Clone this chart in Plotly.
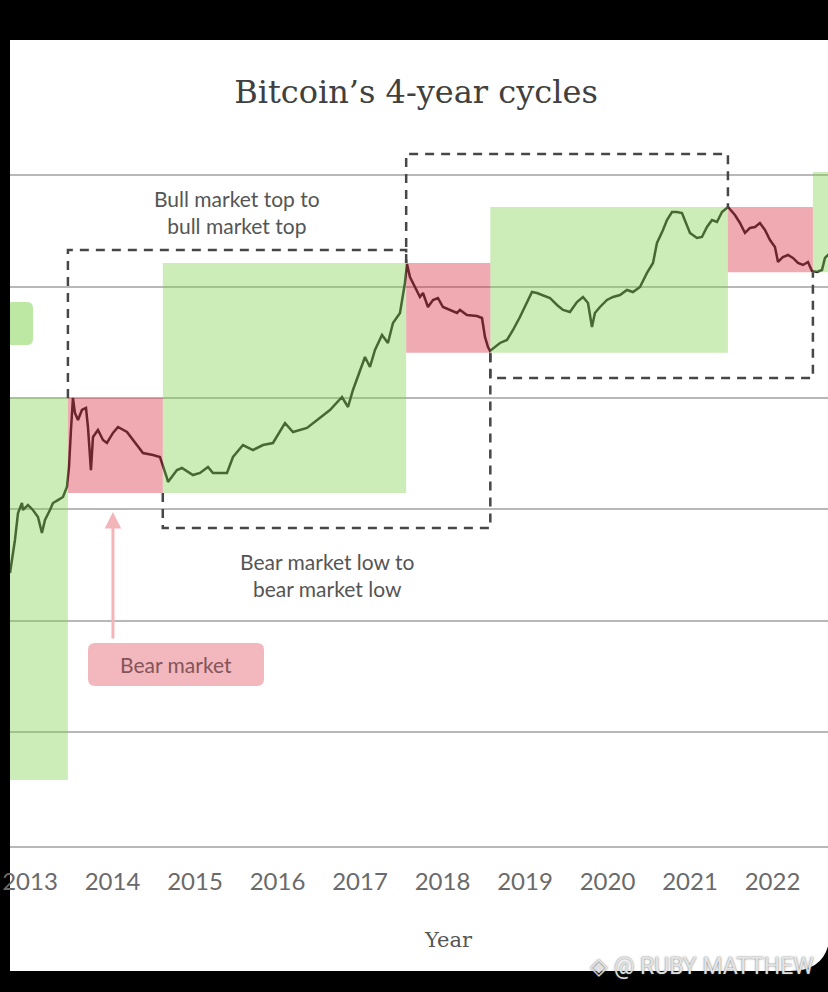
import plotly.graph_objects as go

# ---------------- data ----------------
years = list(range(2013, 2024))

price_t = [
    2013.158, 2013.218, 2013.255, 2013.303, 2013.315, 2013.376, 2013.436, 2013.497, 2013.545, 2013.582,
    2013.642, 2013.679, 2013.739, 2013.800, 2013.848, 2013.873, 2013.897, 2013.921, 2013.945, 2013.982,
    2014.030, 2014.079, 2014.103, 2014.139, 2014.164, 2014.224, 2014.285, 2014.333, 2014.406, 2014.467,
    2014.576, 2014.648, 2014.770, 2014.891, 2014.976, 2015.061, 2015.073, 2015.182, 2015.242, 2015.376,
    2015.461, 2015.558, 2015.618, 2015.788, 2015.861, 2015.982, 2016.103, 2016.224, 2016.345, 2016.491,
    2016.588, 2016.758, 2016.879, 2017.036, 2017.182, 2017.255, 2017.315, 2017.400, 2017.461, 2017.521,
    2017.582, 2017.667, 2017.739, 2017.800, 2017.885, 2017.945, 2017.970, 2018.006, 2018.067, 2018.127,
    2018.164, 2018.224, 2018.285, 2018.345, 2018.406, 2018.491, 2018.576, 2018.612, 2018.697, 2018.818,
    2018.879, 2018.915, 2018.952, 2018.976, 2019.097, 2019.182, 2019.255, 2019.339, 2019.424, 2019.485,
    2019.545, 2019.618, 2019.703, 2019.788, 2019.861, 2019.945, 2020.030, 2020.103, 2020.164, 2020.212,
    2020.248, 2020.309, 2020.394, 2020.467, 2020.552, 2020.636, 2020.709, 2020.794, 2020.879, 2020.952,
    2021.000, 2021.073, 2021.121, 2021.182, 2021.242, 2021.303, 2021.339, 2021.400, 2021.485, 2021.545,
    2021.606, 2021.667, 2021.727, 2021.788, 2021.861, 2021.945, 2022.006, 2022.067, 2022.127, 2022.188,
    2022.248, 2022.309, 2022.370, 2022.430, 2022.467, 2022.527, 2022.588, 2022.648, 2022.709, 2022.770,
    2022.830, 2022.879, 2022.939, 2023.000, 2023.036, 2023.097,
]
price_usd = [
    26.8, 53, 92.6, 113.9, 98.6, 109.3, 98.6, 85.3, 61.3, 80.1,
    98.6, 113.9, 121, 129, 159, 240, 516, 1000, 733, 634,
    780, 813, 549, 225, 446, 516, 419, 394, 485, 549,
    495, 419, 320, 307, 295, 191, 176, 225, 235, 203,
    212, 240, 212, 212, 295, 378, 341, 378, 394, 596,
    495, 538, 634, 780, 1021, 830, 1180, 1785, 2335, 1899,
    2700, 3681, 3121, 4720, 5803, 10795, 16000, 12225, 9940, 8082,
    8777, 6570, 7596, 7915, 6570, 6176, 5803, 6176, 5568, 5454,
    5233, 3533, 2872, 2650, 3121, 3320, 4083, 5344, 7137, 8961,
    8777, 8421, 7915, 6848, 6176, 5924, 7287, 8082, 7137, 4344,
    5803, 6570, 7596, 8082, 8421, 9340, 8961, 9940, 13280, 16330,
    24700, 32320, 39740, 46910, 46910, 45940, 39740, 30380, 27390, 27960,
    34390, 39740, 38130, 46910, 52020, 44090, 37360, 30380, 33690, 34390,
    37360, 32320, 26280, 22740, 16670, 18490, 19270, 18110, 16330, 15670,
    16670, 13840, 13560, 14130, 18110, 20090,
]

# bull phases (green) and bear phases (red)
bull_start = [2012.90, 2015.01, 2018.98, 2022.89]
bull_end   = [2013.86, 2017.96, 2021.86, 2023.50]
bull_low   = [0.37, 140, 2550, 13500]
bull_high  = [1000, 16300, 52000, 107400]

bear_start = [2013.86, 2017.96, 2021.86]
bear_end   = [2015.01, 2018.98, 2022.89]
bear_low   = [140, 2550, 13500]
bear_high  = [1000, 16300, 52000]

# cycle brackets
top_t      = [2013.86, 2017.96, 2021.86]
top_usd    = [1000, 16300, 52000]
top_level  = [21400, 155600]
low_t      = [2015.01, 2018.98, 2022.89]
low_usd    = [140, 2550, 13500]
low_level  = [68, 1513]

# ---------------- layout helpers ----------------
W, H = 828, 992
L_M, R_M, T_M, B_M = 10, 0, 150, 146
PW, PH = W - L_M - R_M, H - T_M - B_M

def X(px):
    return (px - L_M) / PW

def Y(py):
    return (H - B_M - py) / PH

def rounded_rect(x0, y0, x1, y1, r):
    return (f"M {X(x0+r)},{Y(y0)} L {X(x1-r)},{Y(y0)} Q {X(x1)},{Y(y0)} {X(x1)},{Y(y0+r)} "
            f"L {X(x1)},{Y(y1-r)} Q {X(x1)},{Y(y1)} {X(x1-r)},{Y(y1)} "
            f"L {X(x0+r)},{Y(y1)} Q {X(x0)},{Y(y1)} {X(x0)},{Y(y1-r)} "
            f"L {X(x0)},{Y(y0+r)} Q {X(x0)},{Y(y0)} {X(x0+r)},{Y(y0)} Z")

GREEN = "rgba(128,207,78,0.40)"
RED = "rgba(214,42,62,0.40)"
LINE = "#222222"
DASH = "#474747"

fig = go.Figure()

# price line
fig.add_trace(go.Scatter(x=price_t, y=price_usd, mode="lines",
                         line=dict(color=LINE, width=2.5), hoverinfo="skip", showlegend=False))

# phase boxes (drawn over the line, translucent)
for x0, x1, lo, hi in zip(bull_start, bull_end, bull_low, bull_high):
    fig.add_trace(go.Scatter(x=[x0, x1, x1, x0, x0], y=[lo, lo, hi, hi, lo], mode="lines",
                             fill="toself", fillcolor=GREEN, line=dict(width=0),
                             hoverinfo="skip", showlegend=False))
for x0, x1, lo, hi in zip(bear_start, bear_end, bear_low, bear_high):
    fig.add_trace(go.Scatter(x=[x0, x1, x1, x0, x0], y=[lo, lo, hi, hi, lo], mode="lines",
                             fill="toself", fillcolor=RED, line=dict(width=0),
                             hoverinfo="skip", showlegend=False))

# top-to-top brackets
for i in range(2):
    fig.add_trace(go.Scatter(x=[top_t[i], top_t[i], top_t[i+1], top_t[i+1]],
                             y=[top_usd[i], top_level[i], top_level[i], top_usd[i+1]],
                             mode="lines", line=dict(color=DASH, width=2.5, dash="9px,7px"),
                             hoverinfo="skip", showlegend=False))
# low-to-low brackets
for i in range(2):
    fig.add_trace(go.Scatter(x=[low_t[i], low_t[i], low_t[i+1], low_t[i+1]],
                             y=[low_usd[i], low_level[i], low_level[i], low_usd[i+1]],
                             mode="lines", line=dict(color=DASH, width=2.5, dash="9px,7px"),
                             hoverinfo="skip", showlegend=False))

shapes = [
    # white card (screenshot area)
    dict(type="path", xref="paper", yref="paper", layer="below",
         path=(f"M {X(10)},{Y(40)} L {X(830)},{Y(40)} L {X(830)},{Y(930)} "
               f"Q {X(830)},{Y(971)} {X(790)},{Y(971)} L {X(10)},{Y(971)} Z"),
         fillcolor="white", line=dict(width=0)),
    # Bear market label box
    dict(type="path", xref="paper", yref="paper", layer="above",
         path=rounded_rect(88, 643, 264, 686, 7), fillcolor="#f2b8bd", line=dict(width=0)),
    # partially visible green label on the left
    dict(type="path", xref="paper", yref="paper", layer="above",
         path=(f"M {X(10)},{Y(302)} L {X(27)},{Y(302)} Q {X(33)},{Y(302)} {X(33)},{Y(308)} "
               f"L {X(33)},{Y(339)} Q {X(33)},{Y(345)} {X(27)},{Y(345)} L {X(10)},{Y(345)} Z"),
         fillcolor="#bce8a4", line=dict(width=0)),
]

annotations = [
    dict(x=2015.91, y=4.671, xref="x", yref="y", showarrow=False,
         xanchor="center", yanchor="middle",
         text="Bull market top to<br>bull market top",
         font=dict(family="Lato", size=21, color="#555555")),
    dict(x=2017.00, y=1.41, xref="x", yref="y", showarrow=False,
         xanchor="center", yanchor="middle",
         text="Bear market low to<br>bear market low",
         font=dict(family="Lato", size=21, color="#555555")),
    # arrow pointing to the bear market box
    dict(x=2014.406, y=1.976, xref="x", yref="y", text="", showarrow=True,
         ax=0, ay=128, arrowhead=2, arrowsize=1.1, arrowwidth=3, arrowcolor="#f2b5ba"),
    dict(x=X(176), y=Y(664.5), xref="paper", yref="paper", showarrow=False,
         xanchor="center", yanchor="middle",
         text="Bear market", font=dict(family="Lato", size=21, color="#84545a")),
    dict(x=X(448), y=Y(940), xref="paper", yref="paper", showarrow=False,
         xanchor="center", yanchor="middle",
         text="Year", font=dict(family="DejaVu Serif", size=21, color="#555555")),
    dict(x=X(702), y=Y(966), xref="paper", yref="paper", showarrow=False,
         xanchor="center", yanchor="middle",
         text="◈ @ RUBY MATTHEW",
         font=dict(family="Roboto", size=23, color="rgba(238,238,238,0.92)",
                   shadow="0px 0px 2px #555")),
]

fig.update_layout(
    width=W, height=H,
    margin=dict(l=L_M, r=R_M, t=T_M, b=B_M),
    paper_bgcolor="black",
    plot_bgcolor="rgba(0,0,0,0)",
    showlegend=False,
    title=dict(text="Bitcoin’s 4-year cycles", x=416 / W, xref="container", xanchor="center",
               y=1 - 92 / H, yref="container", yanchor="middle",
               font=dict(family="DejaVu Serif", size=32, color="#404040")),
    shapes=shapes,
    annotations=annotations,
    xaxis=dict(range=[2013.158, 2023.073], tickvals=[y + 0.4 for y in years],
               ticktext=[str(y) for y in years], showgrid=False, zeroline=False,
               showline=True, linecolor="#b8b8b8", linewidth=2, ticks="",
               ticklabelstandoff=13,
               tickfont=dict(family="Lato", size=24, color="#6a6a6a")),
    yaxis=dict(type="log", range=[-1.025, 5.228],
               tickvals=[1, 10, 100, 1000, 10000, 100000],
               showticklabels=False, showgrid=True, gridcolor="#b8b8b8", gridwidth=2,
               zeroline=False, showline=False, ticks=""),
)

fig.write_html("out.html", config={"displayModeBar": False},
               post_script="document.body.style.margin='0';document.body.style.overflow='hidden';")
